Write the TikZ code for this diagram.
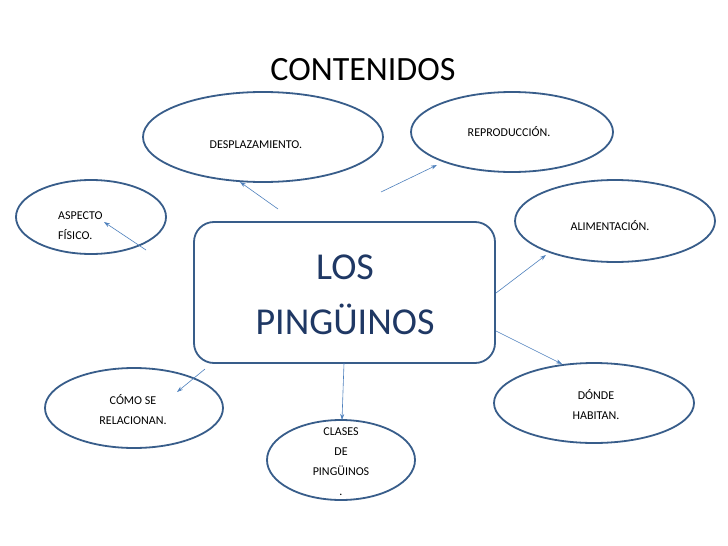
\documentclass[tikz,border=0pt]{standalone}
\usepackage{fontspec}
\setmainfont{Carlito}
\usetikzlibrary{shapes.geometric,arrows.meta}
\definecolor{bord}{HTML}{385D8A}
\definecolor{arr}{HTML}{4F81BD}
\definecolor{navy}{HTML}{1F3864}
\begin{document}
\begin{tikzpicture}[x=1pt,y=-1pt,
  oval/.style={draw=bord,line width=1.8pt},
  lbl/.style={font=\fontsize{12}{20}\selectfont,align=center,inner sep=0pt},
  conn/.style={draw=arr,line width=0.6pt,-{Stealth[length=6pt,width=4pt]}}]
\useasboundingbox (0,0) rectangle (728,546);
\fill[white] (0,0) rectangle (728,546);
\node[inner sep=0pt,font=\fontsize{34}{34}\selectfont] (title) at (363,70) {CONTENIDOS};
\draw[oval] (263,137) ellipse [x radius=120,y radius=45];
\node[lbl] (desp) at (256,145) {DESPLAZAMIENTO.};
\draw[oval] (512,132) ellipse [x radius=101,y radius=40];
\node[lbl] (repr) at (509,132) {REPRODUCCIÓN.};
\draw[oval] (91,217) ellipse [x radius=75,y radius=37];
\node[lbl,align=left,anchor=west] (asp) at (58,226) {ASPECTO\\FÍSICO.};
\draw[oval] (615,221) ellipse [x radius=100,y radius=41];
\node[lbl] (alim) at (610,226) {ALIMENTACIÓN.};
\draw[oval] (134,408) ellipse [x radius=89,y radius=40];
\node[lbl] (como) at (133,410) {CÓMO SE\\RELACIONAN.};
\draw[oval] (594,403) ellipse [x radius=100,y radius=40];
\node[lbl] (donde) at (596,405) {DÓNDE\\HABITAN.};
\draw[oval] (341,460) ellipse [x radius=74,y radius=40];
\node[lbl] (clases) at (341,462) {CLASES\\DE\\PINGÜINOS\\.};
\draw[draw=bord,line width=1.8pt,rounded corners=20pt] (194,222) rectangle (495,363);
\node[inner sep=0pt,align=center,text=navy,font=\fontsize{38}{55}\selectfont] (main) at (345,295) {LOS\\PINGÜINOS};
\coordinate (a1) at (278,209); \coordinate (b1) at (240,182);
\coordinate (a2) at (381,192); \coordinate (b2) at (437,165);
\coordinate (a3) at (146,250); \coordinate (b3) at (104,222);
\coordinate (a4) at (496,293); \coordinate (b4) at (546,255);
\coordinate (a5) at (205,369); \coordinate (b5) at (177,392);
\coordinate (a6) at (344,363); \coordinate (b6) at (342,420);
\coordinate (a7) at (496,331); \coordinate (b7) at (562,364);
\foreach \i in {1,...,7} \draw[conn] (a\i) -- (b\i);
\end{tikzpicture}
\end{document}
